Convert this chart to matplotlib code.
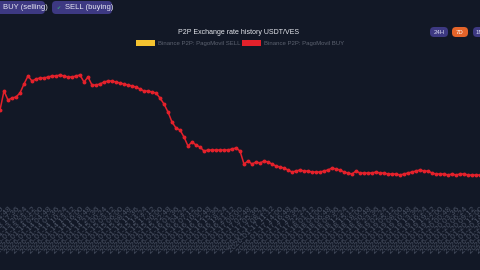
import pandas as pd
import matplotlib
matplotlib.use("Agg")
import matplotlib.pyplot as plt
from matplotlib.patches import Rectangle, FancyBboxPatch
from matplotlib.transforms import IdentityTransform

# BUY rate (VES per USDT)
rates = [546.0, 553.6, 550.0, 550.8, 551.2, 552.8, 556.4, 559.6, 557.6, 558.4,
         558.8, 558.8, 559.2, 559.6, 559.6, 560.0, 559.6, 559.2, 559.2, 559.6,
         560.0, 557.2, 559.2, 556.0, 556.0, 556.4, 557.2, 557.6, 557.6, 557.2,
         556.8, 556.4, 556.0, 555.6, 555.2, 554.4, 553.6, 553.6, 553.2, 552.8,
         550.8, 548.4, 545.2, 541.2, 538.8, 538.0, 535.2, 531.6, 533.2, 532.0,
         531.2, 529.6, 530.0, 530.0, 530.0, 530.0, 530.0, 530.0, 530.4, 530.8,
         529.6, 524.4, 525.6, 524.4, 525.2, 524.8, 525.6, 525.2, 524.4, 523.6,
         523.2, 522.8, 522.0, 521.2, 521.6, 522.0, 521.6, 521.6, 521.2, 521.2,
         521.2, 521.6, 522.0, 522.8, 522.4, 522.0, 521.2, 520.8, 520.4, 521.6,
         520.8, 520.8, 520.8, 520.8, 521.2, 520.8, 520.8, 520.4, 520.4, 520.4,
         520.0, 520.4, 520.8, 521.2, 521.6, 522.0, 521.6, 521.6, 520.8, 520.4,
         520.4, 520.4, 520.0, 520.4, 520.0, 520.4, 520.4, 520.0, 520.0, 520.0,
         520.0]
# the chart runs on past the right edge of the screenshot
pad = 10
times = pd.date_range("2026-01-13 12:00", periods=len(rates) + pad, freq="84min")
tick_labels = [t.strftime("%Y-%m-%d %H:%M") for t in times]

title = "P2P Exchange rate history USDT/VES"
sell_label = "Binance P2P: PagoMovil SELL"
buy_label = "Binance P2P: PagoMovil BUY"

bg = "#121826"
W, H = 480, 270
font = "Liberation Sans"

fig = plt.figure(figsize=(4.8, 2.7), dpi=100, facecolor=bg)
n = len(rates) - 1
ax = fig.add_axes([0, 1 - 200 / H, 1 + pad / n, 145 / H], facecolor=bg)

x = list(range(len(rates)))
ax.plot(x, rates, color="#e3212b", lw=1.1, marker="o", ms=1.8, mec="#e3212b")
ax.set_xlim(0, n + pad)
ax.set_ylim(510, 568)
ax.set_yticks([])
tick_pos = list(range(0, n + pad + 1))
ax.set_xticks(tick_pos[::2])
ax.set_xticklabels(tick_labels[::2], rotation=45, ha="right", family=font,
                   rotation_mode="anchor", fontsize=5.8, color="#4d5567")
ax.tick_params(axis="x", length=0, pad=4)
for s in ax.spines.values():
    s.set_visible(False)

def fx(px):
    return px / W

def fy(py):
    return 1 - py / H

def pill(x0, x1, y0, y1, color):
    fig.patches.append(FancyBboxPatch((x0, H - y1), x1 - x0, y1 - y0,
                                      boxstyle="round,pad=0,rounding_size=4",
                                      transform=IdentityTransform(),
                                      fc=color, ec="none"))

fig.text(fx(239), fy(32), title, ha="center", va="center", family=font,
         fontsize=5, color="#e6e8ee")

# legend
fig.patches.append(Rectangle((fx(136), fy(46)), fx(19), 6 / H,
                             transform=fig.transFigure, fc="#f5c330", ec="none"))
fig.text(fx(158), fy(43), sell_label, ha="left", va="center", family=font,
         fontsize=4.3, color="#5c6270")
fig.patches.append(Rectangle((fx(158), fy(43.3)), fx(80), 0.8 / H,
                             transform=fig.transFigure, fc="#5c6270", ec="none"))
fig.patches.append(Rectangle((fx(242), fy(46)), fx(19), 6 / H,
                             transform=fig.transFigure, fc="#e3212b", ec="none"))
fig.text(fx(264), fy(43), buy_label, ha="left", va="center", family=font,
         fontsize=4.3, color="#5c6270")

# top buttons
pill(-6, 45, 1, 14, "#3d3982")
fig.text(fx(3), fy(7.5), "BUY (selling)", ha="left", va="center", family=font,
         fontsize=5.5, color="#e8e8f4")
pill(52, 112, 1, 14, "#3d3982")
fig.text(fx(56), fy(7.5), "\u2714", ha="left", va="center",
         fontsize=3.5, color="#3aa57a")
fig.text(fx(65), fy(7.5), "SELL (buying)", ha="left", va="center", family=font,
         fontsize=5.5, color="#e8e8f4")

# range buttons
pill(430, 448, 27, 37, "#3d3982")
fig.text(fx(439), fy(32), "24H", ha="center", va="center", fontsize=4.3,
         family=font, color="#d8d8f0")
pill(452, 468, 27, 37, "#e4642a")
fig.text(fx(460), fy(32), "7D", ha="center", va="center", fontsize=4.3,
         family=font, color="#ffffff")
pill(473, 492, 27, 37, "#3d3982")
fig.text(fx(476), fy(32), "1M", ha="left", va="center", fontsize=4.3,
         family=font, color="#d8d8f0")

fig.savefig("out.png", dpi=100, facecolor=bg)
